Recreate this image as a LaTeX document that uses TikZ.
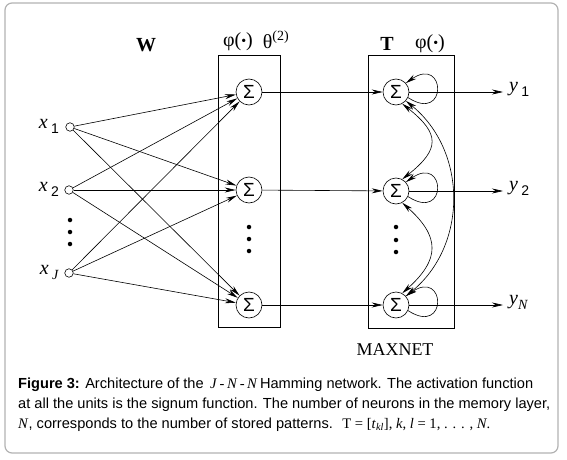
\documentclass[tikz,border=0pt]{standalone}
\usepackage{fontspec}
\setmainfont{Liberation Serif}
\newfontfamily\capfont{Liberation Sans}
\usetikzlibrary{arrows.meta}
\tikzset{
  arr/.style={-{Stealth[length=11pt,width=5pt]}, line width=0.6pt},
  arrtwo/.style={{Stealth[length=11pt,width=5pt]}-{Stealth[length=11pt,width=5pt]}, line width=0.6pt},
  sig/.style={circle, draw, line width=0.6pt, minimum size=26pt, inner sep=0pt, font={\capfont\fontsize{19}{19}\selectfont}},
  inp/.style={circle, draw, line width=0.6pt, minimum size=8.5pt, inner sep=0pt},
  lab/.style={font=\fontsize{20}{20}\selectfont},
  toplab/.style={font=\fontsize{20}{20}\selectfont},
  dotn/.style={circle, fill, inner sep=0pt, minimum size=4.5pt},
  layerbox/.style={draw, line width=0.8pt},
  capline/.style={anchor=base west, inner sep=0pt, font={\capfont\fontsize{14.6}{16}\selectfont}},
}
\newcommand{\subsans}[1]{{\capfont\fontsize{14}{14}\selectfont\raisebox{-5pt}{#1}}}
\newcommand{\subit}[1]{{\fontsize{14}{14}\selectfont\raisebox{-5pt}{\textit{#1}}}}
\begin{document}
\begin{tikzpicture}[x=1pt,y=-1pt]
\useasboundingbox (0,0) rectangle (567,460);
\draw[gray!60, line width=1.2pt, rounded corners=7pt] (5,3) rectangle (558,453);

% boxes
\node[layerbox, minimum width=62pt, minimum height=272pt, inner sep=0pt] (hbox) at (249,191) {};
\node[layerbox, minimum width=86pt, minimum height=273pt, inner sep=0pt] (obox) at (411,191.5) {};

% inputs
\node[inp] (i1) at (70,127) {};
\node[inp] (i2) at (69,190) {};
\node[inp] (iJ) at (69,273) {};
\node[lab, anchor=east, inner sep=0pt] (li1) at (59,126) {\textit{x}\,\subsans{1}};
\node[lab, anchor=east, inner sep=0pt] (li2) at (59,189) {\textit{x}\,\subsans{2}};
\node[lab, anchor=east, inner sep=0pt] (liJ) at (59,272) {\textit{x}\,\subit{J}};
\node[dotn] (id1) at (70,220) {};
\node[dotn] (id2) at (70,232) {};
\node[dotn] (id3) at (70,244) {};

% hidden
\node[sig] (h1) at (249,92) {Σ};
\node[sig] (h2) at (249,190) {Σ};
\node[sig] (hN) at (249,305) {Σ};
\node[dotn] (hd1) at (249,227) {};
\node[dotn] (hd2) at (249,239) {};
\node[dotn] (hd3) at (249,251) {};

% output
\node[sig] (o1) at (396,92) {Σ};
\node[sig] (o2) at (396,191) {Σ};
\node[sig] (oN) at (396,305) {Σ};
\node[dotn] (od1) at (396,227) {};
\node[dotn] (od2) at (396,240) {};
\node[dotn] (od3) at (396,252) {};

% input connections
\foreach \a in {i1,i2,iJ}{
  \foreach \b in {h1,h2,hN}{
    \draw[arr] (\a) -- (\b);
  }
}
% hidden to output
\draw[arr] (h1) -- (o1);
\draw[arr] (h2) -- (o2);
\draw[arr] (hN) -- (oN);

% outputs
\coordinate (e1) at (503,92);
\coordinate (e2) at (503,191);
\coordinate (eN) at (503,305);
\draw[arr] (o1) -- (e1);
\draw[arr] (o2) -- (e2);
\draw[arr] (oN) -- (eN);
\node[lab, anchor=west, inner sep=0pt] (ly1) at (509,89) {\textit{y}\,\subsans{1}};
\node[lab, anchor=west, inner sep=0pt] (ly2) at (509,188) {\textit{y}\,\subsans{2}};
\node[lab, anchor=west, inner sep=0pt] (lyN) at (509,302) {\textit{y}\subit{N}};

% self loops
\foreach \n in {o1,o2,oN}{
  \draw[arr] (\n.-25) .. controls +(40,26) and +(40,-28) .. (\n.42);
}
% lateral arcs
\draw[arrtwo] (o1.-62) .. controls +(38,30) and +(38,-30) .. (o2.62);
\draw[arrtwo] (o2.-62) .. controls +(38,34) and +(38,-34) .. (oN.62);
\draw[arrtwo] (o1.-42) .. controls +(62,50) and +(62,-50) .. (oN.42);

% top labels
\node[toplab] (lW) at (146,45) {\textbf{W}};
\node[toplab] (lphi1) at (238,42) {φ(\raisebox{1pt}{\scalebox{0.7}{•}})};
\node[toplab] (lth) at (276,40) {θ\textsuperscript{(2)}};
\node[toplab] (lT) at (387,44) {\textbf{T}};
\node[toplab] (lphi2) at (430,44) {φ(\raisebox{1pt}{\scalebox{0.7}{•}})};
\node[font=\fontsize{18}{18}\selectfont] (lmax) at (395,350) {MAXNET};

% caption
\node[capline] (c1) at (18,388) {\textbf{Figure 3:} Architecture of the \,{\rmfamily\textit{J}\,-\,\textit{N}\,-\,\textit{N}}\,Hamming network. The activation function};
\node[capline] (c2) at (18,408) {at all the units is the signum function. The number of neurons in the memory layer,};
\node[capline] (c3) at (18,428) {{\rmfamily\textit{N}}, corresponds to the number of stored patterns. \ {\rmfamily T = [\textit{t}\textsubscript{\textit{kl}}], \textit{k}, \textit{l} = 1, . . . , \textit{N}.}};
\end{tikzpicture}
\end{document}
